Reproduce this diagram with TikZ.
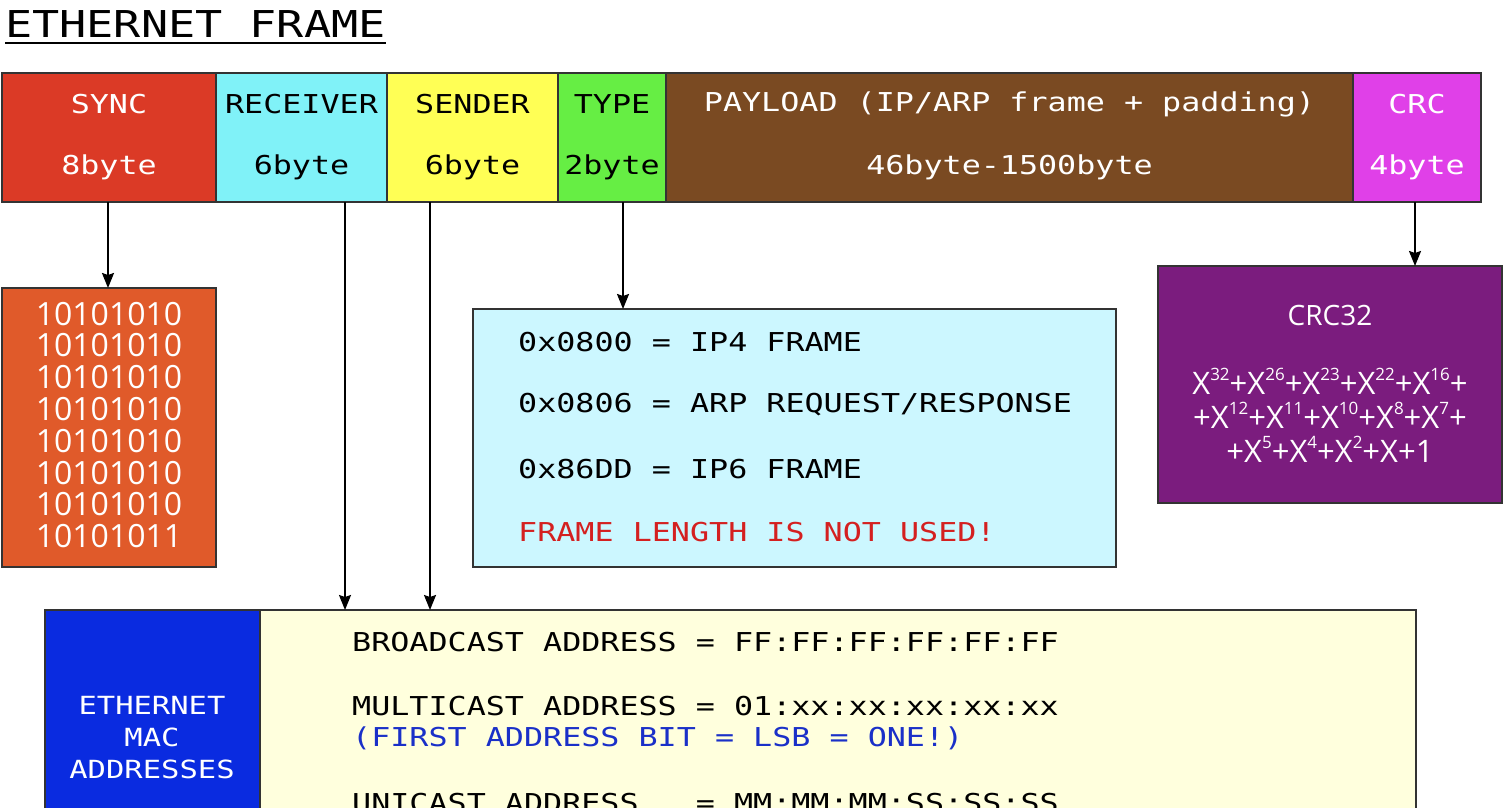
\documentclass[tikz,border=0pt]{standalone}
\usepackage{fontspec}
\newfontfamily\mono[FakeStretch=1.22]{DejaVu Sans Mono}
\newfontfamily\sans{Open Sans}
\usetikzlibrary{arrows.meta}
\definecolor{csync}{HTML}{DB3A26}
\definecolor{crecv}{HTML}{80F2F8}
\definecolor{csend}{HTML}{FFFF55}
\definecolor{ctype}{HTML}{66EE44}
\definecolor{cpay}{HTML}{7A4A22}
\definecolor{ccrc}{HTML}{E040E8}
\definecolor{cbin}{HTML}{E05A2A}
\definecolor{ctbox}{HTML}{CCF7FF}
\definecolor{cpur}{HTML}{7B1C7E}
\definecolor{cmac}{HTML}{0A2BE0}
\definecolor{ccream}{HTML}{FFFFDD}
\definecolor{cred}{HTML}{D42020}
\definecolor{cblue}{HTML}{1A30C8}
\newcommand{\sx}[1]{\raisebox{0.45em}{\fontsize{17}{17}\selectfont #1}}
\tikzset{
 fbox/.style={draw=black!80,line width=1.2pt},
 arr/.style={-{Stealth[length=15pt,width=12pt,inset=2pt]},line width=1.8pt},
 lab/.style={font=\mono\fontsize{26}{30}\selectfont,inner sep=0},
}
\begin{document}
\begin{tikzpicture}[x=1pt,y=-1pt]
\useasboundingbox (0,0) rectangle (1504,808);
\fill[white] (0,0) rectangle (1504,808);
\node[lab,anchor=base west,font=\mono\fontsize{37}{40}\selectfont] (title) at (5,38) {ETHERNET FRAME};
\draw[line width=1.5pt] (title.south west)++(0,5) coordinate (ul1) -- (ul1-|title.south east);
% top row
\foreach \n/\a/\b/\c/\t/\s/\tc in {sync/2/216/csync/SYNC/8byte/white, recv/216/387/crecv/RECEIVER/6byte/black, send/387/558/csend/SENDER/6byte/black, type/558/666/ctype/TYPE/2byte/black, pay/666/1353/cpay/{PAYLOAD (IP/ARP frame + padding)}/46byte-1500byte/white, crc/1353/1481/ccrc/CRC/4byte/white}{
 \draw[fbox,fill=\c] (\a,73) rectangle (\b,202);
 \coordinate (\n) at ({(\a+\b)/2},202);
 \node[lab,text=\tc] at ({(\a+\b)/2},104) {\t};
 \node[lab,text=\tc] at ({(\a+\b)/2},167) {\s};
}
% sync bits
\draw[fbox,fill=cbin] (2,288) rectangle (216,567);
\node[inner sep=0,align=center,text=white,font=\sans\fontsize{32}{31.8}\selectfont] (bits) at (109,425) {10101010\\10101010\\10101010\\10101010\\10101010\\10101010\\10101010\\10101011};
\coordinate (bitsT) at (108,288);
\draw[arr] (108,202) -- (bitsT);
% type box
\draw[fbox,fill=ctbox] (473,309) rectangle (1116,567);
\coordinate (typeT) at (623,309);
\draw[arr] (623,202) -- (typeT);
\node[lab,anchor=west] (t1) at (518,342) {0x0800 = IP4 FRAME};
\node[lab,anchor=west] (t2) at (518,405) {0x0806 = ARP REQUEST/RESPONSE};
\node[lab,anchor=west] (t3) at (518,469) {0x86DD = IP6 FRAME};
\node[lab,anchor=west,text=cred] (t4) at (518,532) {FRAME LENGTH IS NOT USED!};
% crc32
\draw[fbox,fill=cpur] (1158,266) rectangle (1502,503);
\coordinate (crcT) at (1415,266);
\draw[arr] (1415,202) -- (crcT);
\node[inner sep=0,text=white,font=\sans\fontsize{28}{30}\selectfont] (c32) at (1330,315) {CRC32};
\node[inner sep=0,text=white,align=center,font=\sans\fontsize{31}{34}\selectfont] (poly) at (1330,415)
 {X\sx{32}+X\sx{26}+X\sx{23}+X\sx{22}+X\sx{16}+\\+X\sx{12}+X\sx{11}+X\sx{10}+X\sx{8}+X\sx{7}+\\+X\sx{5}+X\sx{4}+X\sx{2}+X+1};
% mac
\draw[fbox,fill=cmac] (45,610) rectangle (260,830);
\draw[fbox,fill=ccream] (260,610) rectangle (1416,830);
\coordinate (macR) at (345,610);
\coordinate (macS) at (430,610);
\draw[arr] (345,202) -- (macR);
\draw[arr] (430,202) -- (macS);
\node[lab,text=white,align=center,font=\mono\fontsize{25}{32}\selectfont] (mac) at (152,738) {ETHERNET\\MAC\\ADDRESSES};
\node[lab,anchor=west] (m1) at (352,642) {BROADCAST ADDRESS = FF:FF:FF:FF:FF:FF};
\node[lab,anchor=west] (m2) at (352,706) {MULTICAST ADDRESS = 01:xx:xx:xx:xx:xx};
\node[lab,anchor=west,text=cblue] (m3) at (352,738) {(FIRST ADDRESS BIT = LSB = ONE!)};
\node[lab,anchor=base west] (m4) at (352,812) {UNICAST ADDRESS\ \ \ = MM:MM:MM:SS:SS:SS};
\end{tikzpicture}
\end{document}
